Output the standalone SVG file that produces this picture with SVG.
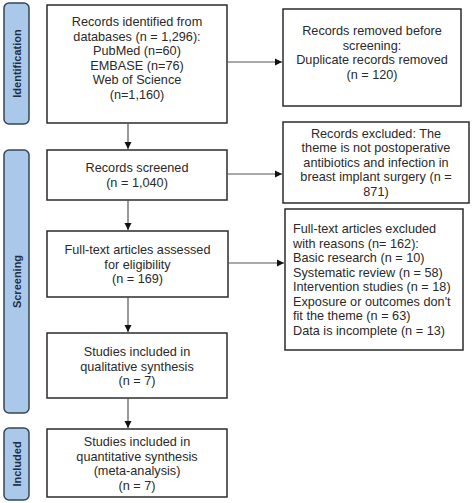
<svg xmlns="http://www.w3.org/2000/svg" width="474" height="503" viewBox="0 0 474 503">
<defs>
<marker id="ah" markerWidth="8" markerHeight="8" refX="7" refY="4" orient="auto" markerUnits="userSpaceOnUse">
<path d="M0,0.5 L7,4 L0,7.5 Z" fill="#111"/>
</marker>
<style>
.box{fill:#fff;stroke:#2b2b2b;stroke-width:1.5}
.side{fill:#a9c8ea;stroke:#34465a;stroke-width:1.5}
.t{font-family:"Liberation Sans",Arial,sans-serif;font-size:12.7px;fill:#2a2a2a}
.c{text-anchor:middle}
.s{font-family:"Liberation Sans",Arial,sans-serif;font-size:11px;font-weight:bold;fill:#1f2f45;text-anchor:middle}
.ln{stroke:#555;stroke-width:1.2;fill:none;marker-end:url(#ah)}
</style>
</defs>
<rect width="474" height="503" fill="#fff"/>
<g id="lbl-identification"><rect class="side" x="4" y="3" width="25" height="121" rx="5"/><text class="s" transform="translate(20.5,63.5) rotate(-90)">Identification</text></g>
<g id="lbl-screening"><rect class="side" x="4" y="150" width="25" height="263" rx="5"/><text class="s" transform="translate(20.5,281.5) rotate(-90)">Screening</text></g>
<g id="lbl-included"><rect class="side" x="4" y="428" width="25" height="72" rx="5"/><text class="s" transform="translate(20.5,464) rotate(-90)">Included</text></g>

<g id="n-identified"><rect class="box" x="47" y="5" width="180" height="118"/>
<text class="t c" x="137"><tspan x="137" y="26">Records identified from</tspan><tspan x="137" y="40.5">databases (n = 1,296):</tspan><tspan x="137" y="55">PubMed (n=60)</tspan><tspan x="137" y="69.5">EMBASE (n=76)</tspan><tspan x="137" y="84">Web of Science</tspan><tspan x="137" y="98.5">(n=1,160)</tspan></text></g>
<g id="n-removed"><rect class="box" x="283" y="9" width="178" height="97"/>
<text class="t c"><tspan x="372" y="35">Records removed before</tspan><tspan x="372" y="49.5">screening:</tspan><tspan x="372" y="64">Duplicate records removed</tspan><tspan x="372" y="78.5">(n = 120)</tspan></text></g>
<g id="n-screened"><rect class="box" x="47" y="150" width="180" height="50"/>
<text class="t c"><tspan x="137" y="172">Records screened</tspan><tspan x="137" y="186.5">(n = 1,040)</tspan></text></g>
<g id="n-excluded"><rect class="box" x="283" y="122" width="186" height="81"/>
<text class="t c"><tspan x="376" y="137.5">Records excluded: The</tspan><tspan x="376" y="152">theme is not postoperative</tspan><tspan x="376" y="166.5">antibiotics and infection in</tspan><tspan x="376" y="181">breast implant surgery (n =</tspan><tspan x="376" y="195.5">871)</tspan></text></g>
<g id="n-fulltext"><rect class="box" x="47" y="231" width="181" height="66"/>
<text class="t c"><tspan x="137.5" y="254">Full-text articles assessed</tspan><tspan x="137.5" y="268.5">for eligibility</tspan><tspan x="137.5" y="283">(n = 169)</tspan></text></g>
<g id="n-ftexcluded"><rect class="box" x="285" y="209" width="178" height="141"/>
<text class="t"><tspan x="293" y="233">Full-text articles excluded</tspan><tspan x="293" y="247.5">with reasons (n= 162):</tspan><tspan x="293" y="262">Basic research (n = 10)</tspan><tspan x="293" y="276.5">Systematic review (n = 58)</tspan><tspan x="293" y="291">Intervention studies (n = 18)</tspan><tspan x="293" y="305.5">Exposure or outcomes don't</tspan><tspan x="293" y="320">fit the theme (n = 63)</tspan><tspan x="293" y="334.5">Data is incomplete (n = 13)</tspan></text></g>
<g id="n-qualitative"><rect class="box" x="47" y="333" width="180" height="65"/>
<text class="t c"><tspan x="137" y="356">Studies included in</tspan><tspan x="137" y="370.5">qualitative synthesis</tspan><tspan x="137" y="385">(n = 7)</tspan></text></g>
<g id="n-quantitative"><rect class="box" x="47" y="429" width="180" height="68"/>
<text class="t c"><tspan x="137" y="446">Studies included in</tspan><tspan x="137" y="460.5">quantitative synthesis</tspan><tspan x="137" y="475">(meta-analysis)</tspan><tspan x="137" y="489.5">(n = 7)</tspan></text></g>

<g id="connectors">
<line class="ln" x1="227" y1="62" x2="282" y2="62"/>
<line class="ln" x1="128" y1="123" x2="128" y2="149"/>
<line class="ln" x1="227" y1="174" x2="282" y2="174"/>
<line class="ln" x1="128" y1="200" x2="128" y2="230"/>
<line class="ln" x1="228" y1="263" x2="284" y2="263"/>
<line class="ln" x1="128" y1="297" x2="128" y2="332"/>
<line class="ln" x1="128" y1="398" x2="128" y2="428"/>
</g>
</svg>
